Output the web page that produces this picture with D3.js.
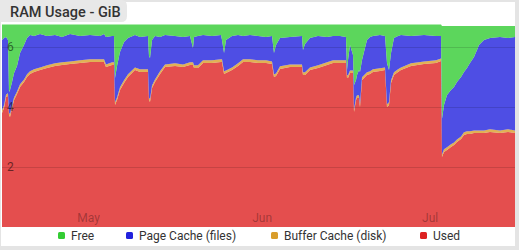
<!DOCTYPE html>
<html>
<head>
<meta charset="utf-8">
<script src="https://cdn.jsdelivr.net/npm/d3@7"></script>
<style>
  body { margin: 0; background: #fff; }
  svg { display: block; font-family: Roboto, "Noto Sans", sans-serif; }
</style>
</head>
<body>
<div id="chart"></div>
<script>
// time of each sample, in days since 1 May (negative = April)
const days = [-15.36, -15.0, -14.64, -14.29, -14.11, -13.93, -13.57, -13.21, -12.68, -12.14,
  -11.43, -10.89, -10.36, -9.64, -8.57, -7.32, -5.89, -4.64, -3.21, -1.43,
  0.36, 2.14, 2.86, 3.21, 4.29, 4.64, 4.82, 5.18, 5.71, 6.43,
  7.14, 8.39, 9.29, 10.71, 10.89, 11.07, 11.43, 11.96, 12.86, 13.75,
  15.54, 16.96, 18.21, 18.75, 18.93, 19.64, 20.54, 22.14, 23.75, 23.93,
  24.29, 24.64, 25.71, 26.79, 27.68, 28.93, 30.36, 31.79, 32.86, 33.21,
  33.57, 34.29, 36.07, 38.21, 38.39, 38.75, 39.64, 41.07, 42.68, 43.75,
  45.0, 46.07, 46.25, 46.43, 46.79, 47.32, 47.5, 47.86, 48.04, 48.39,
  48.57, 48.93, 49.46, 49.82, 50.36, 50.89, 52.14, 53.04, 53.39, 53.75,
  54.11, 54.64, 55.36, 55.89, 57.68, 60.0, 62.14, 63.04, 63.21, 63.57,
  64.11, 64.82, 65.36, 65.89, 66.61, 67.14, 67.68, 68.21, 68.93, 69.46,
  69.82, 70.71, 71.79, 73.57, 75.0, 76.25];

const used = [3.80, 3.97, 4.33, 4.37, 3.73, 3.67, 3.97, 4.23, 4.43, 4.67,
  4.83, 5.00, 5.10, 5.17, 5.23, 5.30, 5.37, 5.40, 5.43, 5.47,
  5.50, 5.50, 5.50, 5.33, 5.40, 5.40, 4.07, 4.23, 4.57, 4.80,
  5.00, 5.23, 5.17, 5.17, 4.23, 4.17, 4.63, 4.83, 5.10, 5.33,
  5.37, 5.33, 5.40, 5.40, 5.30, 5.30, 5.47, 5.47, 5.50, 5.50,
  5.10, 5.13, 5.23, 5.37, 5.50, 5.50, 5.47, 5.47, 5.43, 5.00,
  5.03, 5.27, 5.33, 5.33, 5.07, 5.07, 5.23, 5.30, 5.40, 5.47,
  5.47, 5.47, 4.97, 4.97, 5.13, 5.13, 3.83, 4.23, 4.30, 4.30,
  4.00, 4.90, 5.00, 5.07, 5.10, 5.17, 5.20, 5.23, 4.00, 4.07,
  4.80, 5.07, 5.17, 5.23, 5.37, 5.43, 5.47, 5.53, 2.33, 2.50,
  2.57, 2.67, 2.73, 2.83, 2.93, 3.07, 3.10, 3.10, 3.13, 3.13,
  3.13, 3.13, 3.17, 3.13, 3.17, 3.13];

const buffers = days.map(() => 0.09);

const cache = [2.34, 2.24, 1.91, 1.77, 0.68, 0.81, 0.77, 0.81, 0.85, 1.04,
  1.15, 1.21, 1.21, 1.11, 1.11, 0.98, 0.94, 0.84, 0.91, 0.81,
  0.81, 0.78, 0.84, 0.91, 0.88, 0.88, 0.81, 1.05, 1.17, 1.28,
  1.21, 1.08, 1.07, 1.11, 1.38, 1.37, 1.51, 1.45, 1.14, 0.98,
  0.91, 0.91, 0.88, 0.48, 0.94, 0.98, 0.84, 0.81, 0.81, 0.64,
  0.61, 1.01, 1.05, 0.94, 0.78, 0.81, 0.81, 0.77, 0.85, 0.71,
  0.95, 0.94, 0.91, 0.95, 0.74, 0.94, 0.98, 0.98, 0.84, 0.81,
  0.81, 0.77, 0.17, 0.51, 0.85, 0.51, 0.81, 0.58, 0.68, 0.84,
  1.08, 0.58, 0.88, 1.07, 1.14, 1.11, 1.11, 1.05, 1.38, 1.07,
  0.91, 1.14, 1.11, 1.08, 0.91, 0.88, 0.81, 0.75, 1.18, 1.48,
  1.74, 1.81, 1.85, 1.91, 1.98, 2.01, 2.11, 2.28, 2.45, 2.68,
  2.85, 3.01, 3.04, 3.11, 3.04, 3.11];

const free = [0.52, 0.45, 0.42, 0.52, 2.25, 2.18, 1.92, 1.62, 1.38, 0.95,
  0.68, 0.45, 0.35, 0.38, 0.32, 0.38, 0.35, 0.42, 0.32, 0.38,
  0.35, 0.38, 0.32, 0.42, 0.38, 0.38, 1.78, 1.38, 0.92, 0.58,
  0.45, 0.35, 0.42, 0.38, 1.05, 1.12, 0.52, 0.38, 0.42, 0.35,
  0.38, 0.42, 0.38, 0.78, 0.42, 0.38, 0.35, 0.38, 0.35, 0.52,
  0.95, 0.52, 0.38, 0.35, 0.38, 0.35, 0.38, 0.42, 0.38, 0.95,
  0.68, 0.45, 0.42, 0.38, 0.85, 0.65, 0.45, 0.38, 0.42, 0.38,
  0.38, 0.42, 1.52, 1.18, 0.68, 1.02, 2.02, 1.85, 1.68, 1.52,
  1.58, 1.18, 0.78, 0.52, 0.42, 0.38, 0.35, 0.38, 1.28, 1.52,
  0.95, 0.45, 0.38, 0.35, 0.38, 0.35, 0.38, 0.38, 3.10, 2.63,
  2.30, 2.13, 2.03, 1.87, 1.70, 1.53, 1.40, 1.23, 1.03, 0.80,
  0.63, 0.47, 0.40, 0.37, 0.40, 0.37];

const seriesKeys = ['used', 'buffers', 'cache', 'free'];
const seriesColors = { used: '#dd2222', buffers: '#d99d2b', cache: '#2222dd', free: '#33cc33' };
const legendItems = [
  { key: 'free', label: 'Free', x: 58 },
  { key: 'cache', label: 'Page Cache (files)', x: 126 },
  { key: 'buffers', label: 'Buffer Cache (disk)', x: 271 },
  { key: 'used', label: 'Used', x: 420 },
];
const yTicks = [2, 4, 6];

const width = 519;
const height = 250;
const plot = { left: 2, right: 515, top: 23, bottom: 227 };
const may1 = Date.UTC(2019, 4, 1);

const rows = days.map((d, i) => ({
  date: new Date(may1 + d * 864e5),
  used: used[i],
  buffers: buffers[i],
  cache: cache[i],
  free: free[i],
}));

const svg = d3
  .select('#chart')
  .append('svg')
  .attr('width', width)
  .attr('height', height);

// card frame
svg.append('rect').attr('width', width).attr('height', height).attr('fill', '#e4e4e4');
svg
  .append('rect')
  .attr('x', 1)
  .attr('y', 2)
  .attr('width', width - 5)
  .attr('height', height - 6)
  .attr('fill', '#fff');

const x = d3
  .scaleUtc()
  .domain([rows[0].date, rows[rows.length - 1].date])
  .range([plot.left, plot.right]);

const y = d3
  .scaleLinear()
  .domain([0, 6.8])
  .range([plot.bottom, plot.top]);

const stacked = d3.stack().keys(seriesKeys)(rows);

const area = d3
  .area()
  .x(d => x(d.data.date))
  .y0(d => y(d[0]))
  .y1(d => y(d[1]));

svg
  .append('g')
  .selectAll('path')
  .data(stacked)
  .join('path')
  .attr('d', area)
  .attr('fill', d => seriesColors[d.key])
  .attr('fill-opacity', 0.8);

// grid lines
svg
  .append('g')
  .selectAll('line')
  .data(yTicks)
  .join('line')
  .attr('x1', plot.left)
  .attr('x2', plot.right)
  .attr('y1', d => Math.round(y(d)) + 0.5)
  .attr('y2', d => Math.round(y(d)) + 0.5)
  .attr('stroke', '#000')
  .attr('stroke-opacity', 0.13);

// y labels
const yAxis = svg
  .append('g')
  .attr('transform', `translate(${plot.left + 3},0)`)
  .call(d3.axisRight(y).tickValues(yTicks).tickFormat(d3.format('d')).tickSize(0).tickPadding(2));
yAxis.select('.domain').remove();
yAxis
  .selectAll('text')
  .attr('font-family', 'Roboto, sans-serif')
  .attr('font-size', 12)
  .attr('fill', '#000')
  .attr('fill-opacity', 0.55);

// x labels
const xAxis = svg
  .append('g')
  .attr('transform', `translate(0,${plot.bottom - 17})`)
  .call(d3.axisBottom(x).ticks(d3.utcMonth.every(1)).tickFormat(d3.utcFormat('%b')).tickSize(0));
xAxis.select('.domain').remove();
xAxis
  .selectAll('text')
  .attr('font-family', 'Roboto, sans-serif')
  .attr('font-size', 12)
  .attr('fill', '#000')
  .attr('fill-opacity', 0.3);

// title tab
svg
  .append('path')
  .attr('d', 'M0,0 H121 Q127,0 127,6 V16 Q127,22 121,22 H0 Z')
  .attr('fill', '#e8e8e8');
svg
  .append('text')
  .attr('x', 10)
  .attr('y', 17)
  .attr('font-size', 14.5)
  .attr('font-weight', 500)
  .attr('fill', '#333')
  .text('RAM Usage - GiB');

// legend
const legend = svg
  .append('g')
  .selectAll('g')
  .data(legendItems)
  .join('g')
  .attr('transform', d => `translate(${d.x},236)`);
legend
  .append('rect')
  .attr('x', 0)
  .attr('y', -4)
  .attr('width', 7)
  .attr('height', 7)
  .attr('rx', 1.5)
  .attr('fill', d => seriesColors[d.key]);
legend
  .append('text')
  .attr('x', 13)
  .attr('y', 4)
  .attr('font-size', 12)
  .attr('fill', '#333')
  .text(d => d.label);
</script>
</body>
</html>
